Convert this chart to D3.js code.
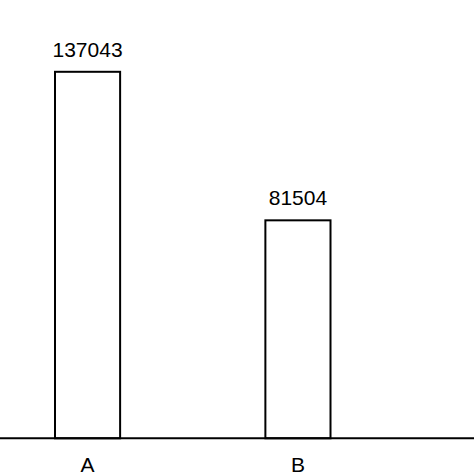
<!DOCTYPE html>
<html><head><meta charset="utf-8">
<script src="https://cdn.jsdelivr.net/npm/d3@7"></script>
<style>html,body{margin:0;padding:0;background:#fff;}svg{display:block;}</style>
</head><body>
<script>
const categories = ["A", "B"];
const values = [137043, 81504];

const W = 474, H = 474;
const svg = d3.select("body").append("svg").attr("width", W).attr("height", H);

const x = d3.scaleBand().domain(categories).range([55, 330.5])
  .paddingInner(145 / 210).paddingOuter(0);
const y = d3.scaleLinear().domain([0, 137043]).range([438.3, 71.8]);

svg.selectAll("rect.bar").data(categories).join("rect")
  .attr("class", "bar")
  .attr("x", d => x(d))
  .attr("y", (d, i) => y(values[i]))
  .attr("width", x.bandwidth())
  .attr("height", (d, i) => y(0) - y(values[i]))
  .attr("fill", "#fff").attr("stroke", "#000").attr("stroke-width", 2);

svg.selectAll("text.val").data(categories).join("text")
  .attr("class", "val")
  .attr("x", d => x(d) + x.bandwidth() / 2)
  .attr("y", (d, i) => y(values[i]) - 15)
  .attr("text-anchor", "middle")
  .attr("font-family", "Liberation Sans, Arial, sans-serif")
  .attr("font-size", 21)
  .attr("fill", "#000")
  .text((d, i) => values[i]);

svg.append("line").attr("x1", 0).attr("x2", W)
  .attr("y1", y(0)).attr("y2", y(0))
  .attr("stroke", "#000").attr("stroke-width", 2);

svg.selectAll("text.cat").data(categories).join("text")
  .attr("class", "cat")
  .attr("x", d => x(d) + x.bandwidth() / 2)
  .attr("y", 472)
  .attr("text-anchor", "middle")
  .attr("font-family", "Liberation Sans, Arial, sans-serif")
  .attr("font-size", 21)
  .attr("fill", "#000")
  .text(d => d);
</script>
</body></html>
